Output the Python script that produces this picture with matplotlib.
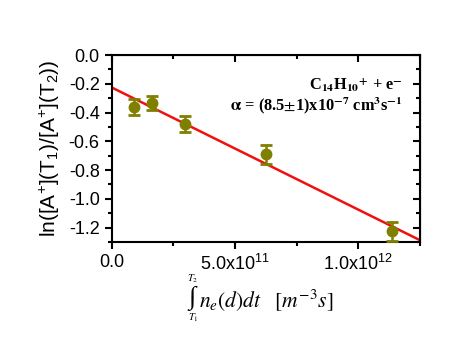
import matplotlib
matplotlib.use("Agg")
import matplotlib.pyplot as plt
import matplotlib.ticker as mticker
import numpy as np

# electron exposure integral [m^-3 s] and log decay of the ion signal
exposure = [0.92e11, 1.65e11, 2.97e11, 6.24e11, 1.138e12]
ln_ratio = [-0.361, -0.333, -0.481, -0.691, -1.226]
ln_err = [0.053, 0.050, 0.055, 0.064, 0.064]

# linear fit: slope = -alpha (m^3/s)
fit_intercept = -0.225
fit_slope = -8.5e-13

XLIM = (0.0, 1.25e12)
YLIM = (-1.3, 0.0)

plt.rcParams["font.family"] = ["Liberation Sans", "DejaVu Sans"]
plt.rcParams["mathtext.fontset"] = "custom"
plt.rcParams["mathtext.rm"] = "Liberation Sans"
plt.rcParams["mathtext.it"] = "Liberation Sans:italic"

fig = plt.figure(figsize=(4.74, 3.39), dpi=100)
ax = fig.add_axes([111.5 / 474, 1 - 242 / 339, (420 - 111.5) / 474, (242 - 55) / 339])

# fit line across the full axis
xf = np.array(XLIM)
ax.plot(xf, fit_intercept + fit_slope * xf, color="#F01010", lw=1.8, zorder=2)

ax.errorbar(exposure, ln_ratio, yerr=ln_err, fmt="o", color="#7F7F00",
            ms=7.5, elinewidth=1.8, capsize=4, capthick=2, zorder=3)

ax.set_xlim(*XLIM)
ax.set_ylim(*YLIM)

ax.xaxis.set_major_locator(mticker.MultipleLocator(5e11))
ax.xaxis.set_minor_locator(mticker.MultipleLocator(2.5e11))
ax.yaxis.set_major_locator(mticker.MultipleLocator(0.2))
ax.yaxis.set_minor_locator(mticker.MultipleLocator(0.1))


def xfmt(v, pos):
    if v < 1:
        return "0.0"
    exp = int(np.floor(np.log10(v)))
    return r"%.1fx10$^{%d}$" % (v / 10 ** exp, exp)


ax.xaxis.set_major_formatter(mticker.FuncFormatter(xfmt))
ax.yaxis.set_major_formatter(mticker.FormatStrFormatter("%.1f"))

for s in ax.spines.values():
    s.set_linewidth(1.5)
ax.tick_params(which="both", direction="out", width=1.5, labelsize=13,
               top=False, right=False)
ax.tick_params(which="major", length=5)
ax.tick_params(which="minor", length=3)
# mirrored inward ticks on top and right
axt = ax.secondary_xaxis("top")
axt.xaxis.set_major_locator(mticker.MultipleLocator(5e11))
axt.xaxis.set_minor_locator(mticker.MultipleLocator(2.5e11))
axt.tick_params(which="both", direction="in", width=1.5, labeltop=False)
axt.tick_params(which="major", length=5)
axt.tick_params(which="minor", length=3)
axr = ax.secondary_yaxis("right")
axr.yaxis.set_major_locator(mticker.MultipleLocator(0.2))
axr.yaxis.set_minor_locator(mticker.MultipleLocator(0.1))
axr.tick_params(which="both", direction="in", width=1.5, labelright=False)
axr.tick_params(which="major", length=5)
axr.tick_params(which="minor", length=3)

ax.set_ylabel(r"ln([A$^{+}$](T$_{1}$)/[A$^{+}$](T$_{2}$))", fontsize=15, labelpad=5)

# x label: integral with limits stacked above and below
serif = ["Liberation Serif", "DejaVu Serif"]
fig.text(192 / 474, 1 - 298 / 339, "\u222B", fontsize=19, family=serif,
         ha="center", va="center")
fig.text(193 / 474, 1 - 279 / 339, r"$T_2$", fontsize=7.5, family=serif,
         ha="center", va="center", math_fontfamily="stix")
fig.text(193 / 474, 1 - 318 / 339, r"$T_1$", fontsize=7.5, family=serif,
         ha="center", va="center", math_fontfamily="stix")
fig.text(199 / 474, 1 - 300 / 339, r"$n_e(d)dt\ \ \ [m^{-3}s]$", fontsize=15.5,
         ha="left", va="center", math_fontfamily="stix")

ax.text(0.945, 0.84, r"C$_{\mathbf{14}}$H$_{\mathbf{10}}$$^{\mathbf{+}}$ + e$^{\mathbf{-}}$",
        transform=ax.transAxes, ha="right", va="center", fontsize=11.8,
        fontweight="bold", family=serif, math_fontfamily="stix")
ax.text(0.945, 0.73,
        r"$\mathbf{\alpha}$ = (8.5$\pm$1)x10$^{\mathbf{-7}}$ cm$^{\mathbf{3}}$s$^{\mathbf{-1}}$",
        transform=ax.transAxes, ha="right", va="center", fontsize=11.8,
        fontweight="bold", family=serif, math_fontfamily="stix")

fig.savefig("out.png", dpi=100)
